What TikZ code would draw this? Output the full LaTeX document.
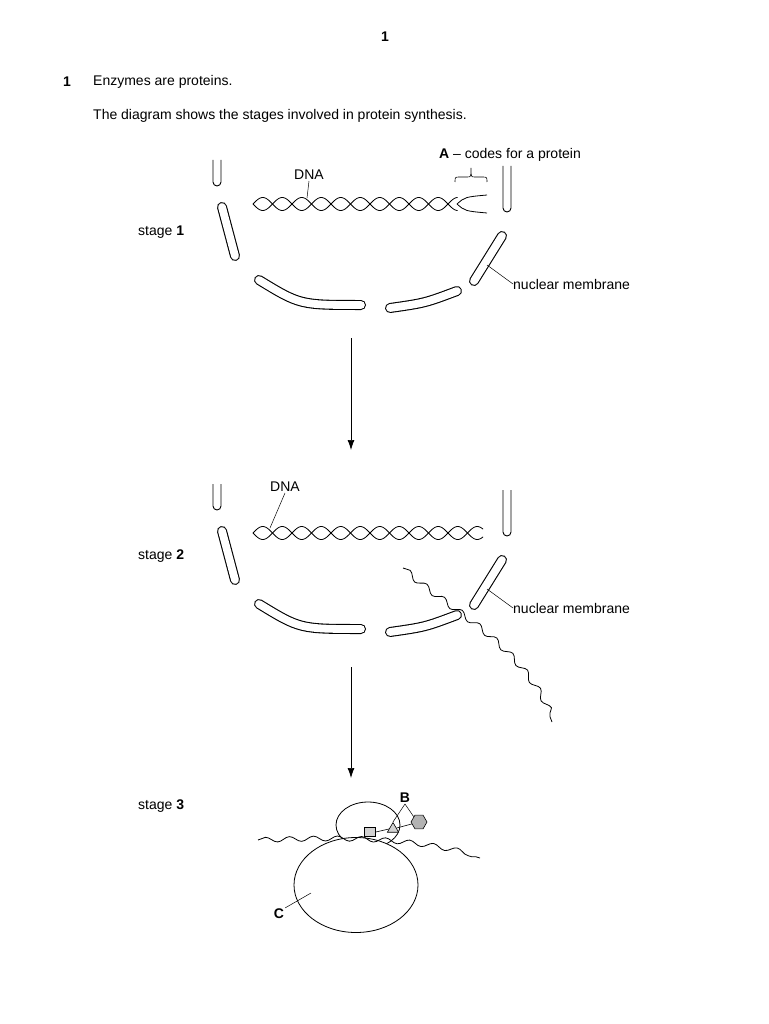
\documentclass[tikz,border=0pt]{standalone}
\usepackage{fontspec}
\setmainfont{Liberation Sans}
\usetikzlibrary{decorations.pathmorphing,shapes.geometric,arrows.meta}
\begin{document}
\begin{tikzpicture}[x=1pt,y=-1pt,
  txt/.style={anchor=west,inner sep=0pt,font=\fontsize{14}{16}\selectfont},
  memo/.style={line width=10pt,line cap=round},
  memi/.style={white,line width=7.8pt,line cap=round},
  lead/.style={line width=0.5pt},
  wav/.style={decorate,decoration={snake,segment length=22pt,amplitude=3pt},line width=0.8pt}]
\useasboundingbox (0,0) rectangle (768,1024);
\node[font=\fontsize{14}{16}\selectfont\bfseries] (pg) at (385,37) {1};
\node[txt,font=\fontsize{14}{16}\selectfont\bfseries] (q) at (63,82) {1};
\node[txt] (t1) at (93,82) {Enzymes are proteins.};
\node[txt] (t2) at (93,116) {The diagram shows the stages involved in protein synthesis.};
% membranes
\foreach \dy/\s in {0/1,324/2}{
 \draw[line width=0.9pt] (213,{160+\dy})--(213,{182+\dy}) arc(180:0:4)--(221,{160+\dy});
 \draw[line width=0.9pt] (503,{166+\dy})--(503,{208+\dy}) arc(180:0:4)--(511,{166+\dy});
 \draw[memo] (222,{207+\dy}) .. controls (228,{231+\dy}) .. (235,{256+\dy});
 \draw[memi] (222,{207+\dy}) .. controls (228,{231+\dy}) .. (235,{256+\dy});
 \draw[memo] (259,{280+\dy}) .. controls (300,{305+\dy}) .. (361,{305+\dy});
 \draw[memi] (259,{280+\dy}) .. controls (300,{305+\dy}) .. (361,{305+\dy});
 \draw[memo] (390,{308+\dy}) .. controls (425,{303+\dy}) .. (457,{291+\dy});
 \draw[memi] (390,{308+\dy}) .. controls (425,{303+\dy}) .. (457,{291+\dy});
 \draw[memo] (502,{236+\dy}) -- (474,{281+\dy});
 \draw[memi] (502,{236+\dy}) -- (474,{281+\dy});
 \node[txt] (st\s) at (138,{232+\dy}) {stage \textbf{\s}};
 \node[txt] (nm\s) at (513,{284+\dy}) {nuclear membrane};
 \coordinate (nmp\s) at (487,{265+\dy});
 \draw[lead] (nmp\s) -- (nm\s.west);
}
% stage 1 DNA
\draw[line width=0.8pt,domain=0:10.5,samples=200,smooth] plot ({253+\x*19.5},{204+6.5*sin(\x*180)});
\draw[line width=0.8pt,domain=0:10.5,samples=200,smooth] plot ({253+\x*19.5},{204-6.5*sin(\x*180)});
\draw[line width=0.8pt] (457,204) .. controls (465,197) .. (487,195);
\draw[line width=0.8pt] (457,204) .. controls (465,211) .. (487,213);
\draw[line width=0.6pt] (455,182) .. controls (455,177) .. (460,177) -- (467,177) .. controls (471,177) .. (471,168)
  .. controls (471,177) .. (475,177) -- (482,177) .. controls (487,177) .. (487,182);
\node[txt] (A) at (439,155) {\textbf{A} – codes for a protein};
\node[font=\fontsize{14}{16}\selectfont,inner sep=1pt] (dna1) at (309,175) {DNA};
\draw[lead] (dna1.south) -- (307,198);
% stage 2 DNA
\draw[line width=0.8pt,domain=0:11.8,samples=220,smooth] plot ({253+\x*19.5},{533+6.5*sin(\x*180)});
\draw[line width=0.8pt,domain=0:11.8,samples=220,smooth] plot ({253+\x*19.5},{533-6.5*sin(\x*180)});
\node[font=\fontsize{14}{16}\selectfont,inner sep=1pt] (dna2) at (285,487) {DNA};
\draw[lead] (dna2.south) -- (270,528);
\coordinate (m1) at (403,568); \coordinate (m2) at (552,722);
\draw[wav] (m1) .. controls (450,610) and (520,640) .. (m2);
% arrows
\coordinate (a1) at (351,338); \coordinate (a2) at (351,450);
\coordinate (a3) at (351,667); \coordinate (a4) at (351,778);
\draw[-{Latex[length=10pt,width=7pt]},line width=0.7pt] (a1)--(a2);
\draw[-{Latex[length=10pt,width=7pt]},line width=0.7pt] (a3)--(a4);
% stage 3
\node[txt] (st3) at (138,806) {stage \textbf{3}};
\node[draw,ellipse,line width=0.8pt,minimum width=64pt,minimum height=46pt] (small) at (368,825) {};
\node[draw,ellipse,fill=white,line width=0.8pt,minimum width=124pt,minimum height=95pt] (big) at (356,885) {};
\coordinate (w1) at (258,840); \coordinate (w2) at (480,858);
\draw[decorate,decoration={snake,segment length=24pt,amplitude=2.5pt},line width=0.8pt] (w1) .. controls (330,838) and (400,835) .. (w2);
\node[draw,fill=gray!35,minimum width=11pt,minimum height=9pt,inner sep=0pt,line width=0.6pt] (sq) at (370,832) {};
\node[draw,fill=gray!35,regular polygon,regular polygon sides=3,minimum size=13pt,inner sep=0pt,line width=0.6pt] (tri) at (393,829) {};
\node[draw,fill=gray!60,regular polygon,regular polygon sides=6,minimum size=16pt,inner sep=0pt,line width=0.6pt] (hex) at (419,822) {};
\draw[line width=0.6pt] (sq.east)--(tri.west); \draw[line width=0.6pt] (tri)--(hex);
\node[font=\fontsize{14}{16}\selectfont\bfseries,inner sep=1pt] (B) at (405,798) {B};
\draw[lead] (B.south) -- (tri.north); \draw[lead] (B.south) -- (hex.north west);
\node[font=\fontsize{14}{16}\selectfont\bfseries,inner sep=1pt] (C) at (279,914) {C};
\draw[lead] (C.north east) -- (311,893);
\end{tikzpicture}
\end{document}
